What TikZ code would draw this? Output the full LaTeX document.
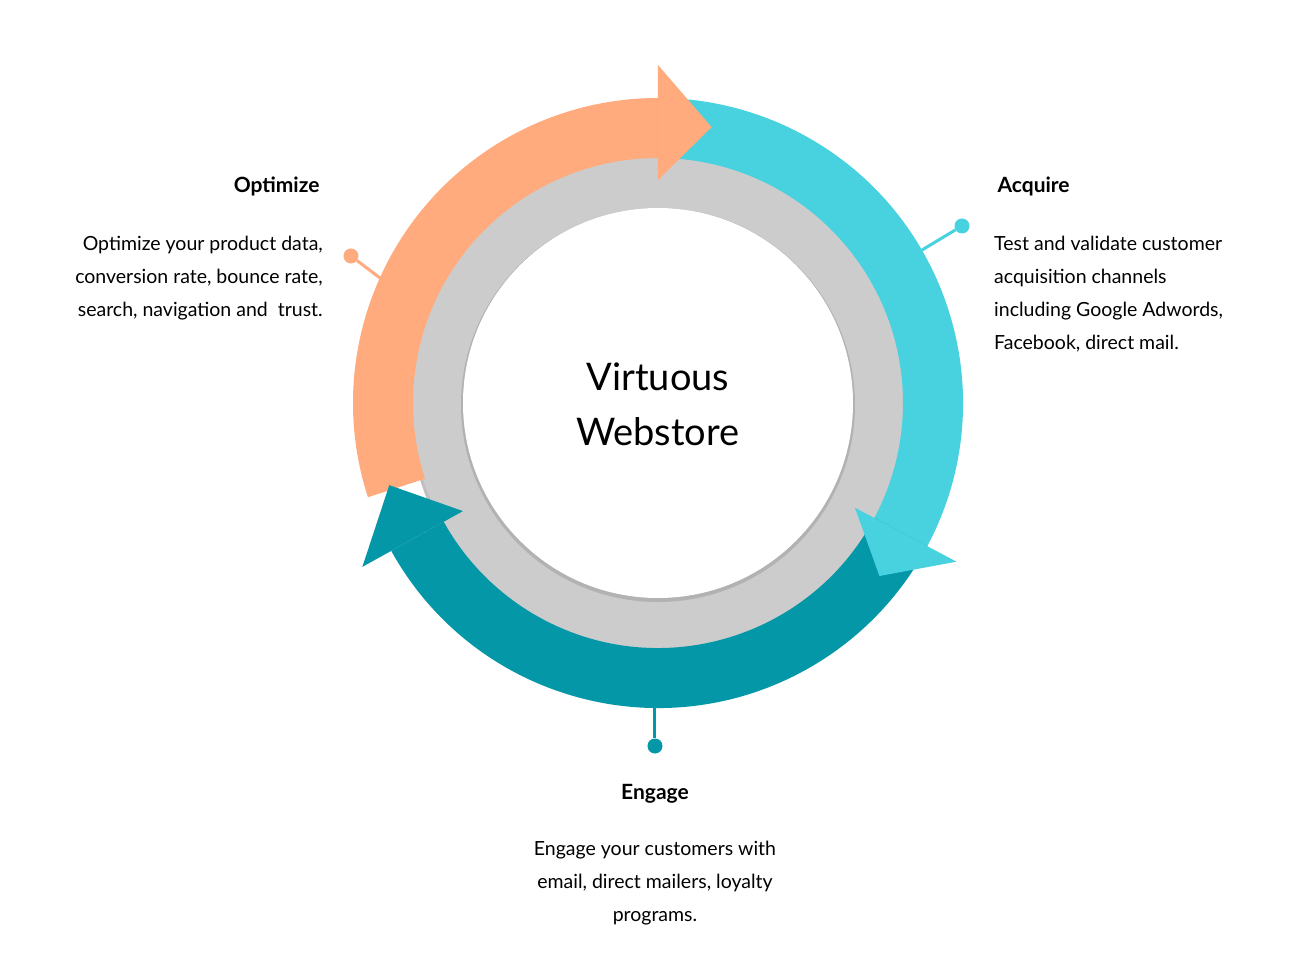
\documentclass[tikz,border=0pt]{standalone}
\usepackage{fontspec}
\setmainfont{Lato}
\definecolor{org}{HTML}{FFAB7E}
\definecolor{lte}{HTML}{48D1DF}
\definecolor{dte}{HTML}{0397A7}
\newcommand\bandbody[3]{\fill[#3] (#1:245) arc[start angle=#1,end angle=#2,radius=245] -- (#2:305) arc[start angle=#2,end angle=#1,radius=305] -- cycle;}
\newcommand\bandhead[3]{\fill[#3] (#1:223) -- (#2:281) -- (#1:338) -- cycle;}
\begin{document}
\begin{tikzpicture}[x=1pt,y=1pt,
  title/.style={font=\fontsize{21}{26}\selectfont\bfseries},
  body/.style={font=\fontsize{19.5}{33}\selectfont,inner sep=0pt},
  dot/.style={circle,inner sep=0pt,minimum size=15pt}]
\useasboundingbox[fill=white] (-658,-555) rectangle (635,403);
% gray ring
\fill[black!25] (0,-3) circle (249);
\fill[black!20] (0,0) circle (247);
\fill[black!30] (0,-2) circle (197);
\fill[white] (0,0) circle (195);
% arrows
\bandbody{198}{90}{org}
\bandbody{90}{-28}{lte}
\bandbody{-28}{-151}{dte}
\bandhead{90}{79}{org}
\bandhead{-28}{-38}{lte}
\bandhead{-151}{-163}{dte}
\node[font=\fontsize{38}{55}\selectfont,align=center] (c) at (0,-1) {Virtuous\\Webstore};
% leaders
\node[dot,fill=org] (d1) at (-307,147) {};
\coordinate (e1) at (-278,125);
\draw[org,line width=3pt] (d1) -- (e1);
\node[dot,fill=lte] (d2) at (304,177) {};
\coordinate (e2) at (264,153);
\draw[lte,line width=3pt] (d2) -- (e2);
\node[dot,fill=dte] (d3) at (-3,-343) {};
\coordinate (e3) at (-3,-302);
\draw[dte,line width=3pt] (d3) -- (e3);
% texts
\node[title,anchor=east] (t1) at (-335,217) {Optimize};
\node[body,align=right,anchor=east] (b1) at (-335,125) {Optimize your product data,\\conversion rate, bounce rate,\\search, navigation and\ \ trust.};
\node[title,anchor=west] (t2) at (336,217) {Acquire};
\node[body,align=left,anchor=west] (b2) at (336,109) {Test and validate customer\\acquisition channels\\including Google Adwords,\\Facebook, direct mail.};
\node[title] (t3) at (-3,-391) {Engage};
\node[body,align=center] (b3) at (-3,-480) {Engage your customers with\\email, direct mailers, loyalty\\programs.};
\end{tikzpicture}
\end{document}
